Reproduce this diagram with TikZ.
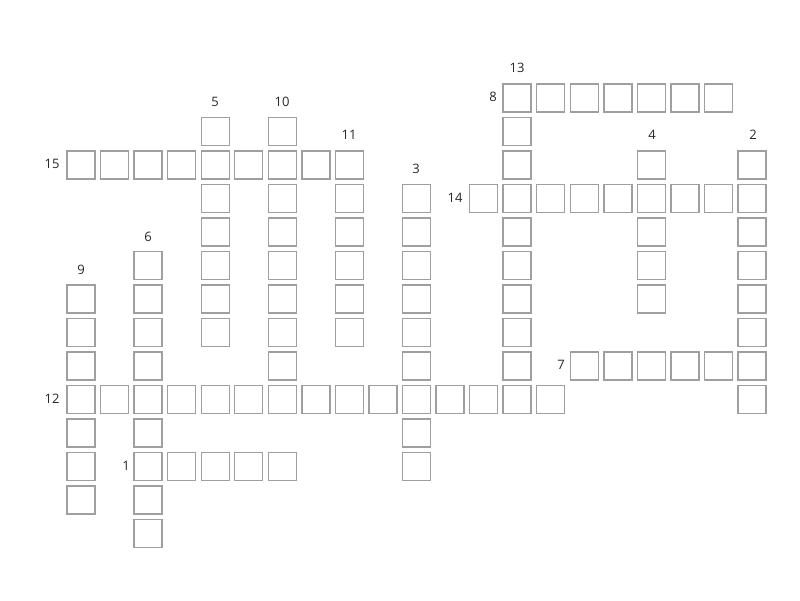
\documentclass[tikz,border=0pt]{standalone}
\usepackage{fontspec}
\setmainfont{Open Sans}
\begin{document}
\begin{tikzpicture}[x=1pt,y=-1pt,
  cell/.style={draw=gray!75,line width=1.4pt},
  num/.style={font=\fontsize{13}{15}\selectfont,text=black!85,inner sep=0pt}]
\useasboundingbox (0,0) rectangle (800,600);
\def\cx#1{67+33.55*#1}
\def\ry#1{84+33.5*#1}
% across(row, c1, c2)
\newcommand\across[3]{\foreach \c in {#2,...,#3}{\draw[cell] ({67+33.55*\c},{84+33.5*#1}) rectangle ++(28,28);}}
\newcommand\down[3]{\foreach \r in {#2,...,#3}{\draw[cell] ({67+33.55*#1},{84+33.5*\r}) rectangle ++(28,28);}}
\across{2}{0}{8}
\down{4}{1}{7}
\down{6}{1}{8}
\down{8}{2}{7}
\down{10}{3}{11}
\down{2}{5}{13}
\down{0}{6}{12}
\across{9}{0}{14}
\across{11}{2}{6}
\down{13}{0}{8}
\across{0}{13}{19}
\across{3}{12}{20}
\down{17}{2}{6}
\down{20}{2}{9}
\across{8}{15}{20}
% labels
\node[num] (n15) at (52,164) {15};
\node[num] (n5) at (215,102) {5};
\node[num] (n10) at (282,102) {10};
\node[num] (n11) at (349,135) {11};
\node[num] (n3) at (416,169) {3};
\node[num] (n6) at (148,237) {6};
\node[num] (n9) at (81,270) {9};
\node[num] (n12) at (52,399) {12};
\node[num] (n1) at (126,466) {1};
\node[num] (n13) at (517,68) {13};
\node[num] (n8) at (493,97) {8};
\node[num] (n4) at (652,135) {4};
\node[num] (n2) at (753,135) {2};
\node[num] (n14) at (455,198) {14};
\node[num] (n7) at (561,365) {7};
\end{tikzpicture}
\end{document}
